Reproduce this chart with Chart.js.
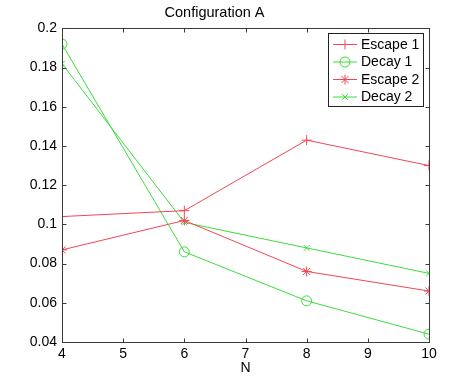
<!DOCTYPE html>
<html><head><meta charset="utf-8">
<script src="https://cdn.jsdelivr.net/npm/chart.js@4"></script>
<style>html,body{margin:0;padding:0;background:#fff}canvas{display:block}</style>
</head><body><canvas id="c" width="474" height="384"></canvas>
<script>
const N = [4, 6, 8, 10];
const escape1 = [0.104, 0.107, 0.143, 0.130];
const decay1 = [0.192, 0.086, 0.061, 0.044];
const escape2 = [0.087, 0.102, 0.076, 0.066];
const decay2 = [0.182, 0.101, 0.088, 0.075];
const seriesLabels = ['Escape 1', 'Decay 1', 'Escape 2', 'Decay 2'];
const xTicks = [4, 5, 6, 7, 8, 9, 10];
const yTicks = [0.04, 0.06, 0.08, 0.1, 0.12, 0.14, 0.16, 0.18, 0.2];
const yTickLabels = ['0.04', '0.06', '0.08', '0.1', '0.12', '0.14', '0.16', '0.18', '0.2'];
const titleText = 'Configuration A';
const xTitle = 'N';

const RED = 'rgb(242,70,85)';
const GREEN = 'rgb(60,220,60)';
const FONT = 'Liberation Sans, Arial, Helvetica, sans-serif';

function mk(label, vals, color, style, r) {
  return {
    label, data: N.map((x, i) => ({x, y: vals[i]})),
    borderColor: color, backgroundColor: 'rgba(0,0,0,0)',
    borderWidth: 1, pointStyle: style, pointRadius: r, pointHoverRadius: r,
    pointBorderColor: color, pointBackgroundColor: 'rgba(0,0,0,0)', pointBorderWidth: 1,
    tension: 0, fill: false
  };
}
const styles = ['cross', 'circle', 'star', 'crossRot'];
const radii = [5, 5, 5, 4];
const colors = [RED, GREEN, RED, GREEN];
const seriesVals = [escape1, decay1, escape2, decay2];

function drawMarker(ctx, style, x, y, r) {
  ctx.beginPath();
  if (style === 'circle') { ctx.arc(x, y, r, 0, Math.PI * 2); }
  else {
    const lines = [];
    if (style === 'cross' || style === 'star') { lines.push([0, -r, 0, r], [-r, 0, r, 0]); }
    if (style === 'crossRot' || style === 'star') { const d = r * 0.7071; lines.push([-d, -d, d, d], [-d, d, d, -d]); }
    lines.forEach(l => { ctx.moveTo(x + l[0], y + l[1]); ctx.lineTo(x + l[2], y + l[3]); });
  }
  ctx.stroke();
}

const frame = {
  id: 'frame',
  afterDatasetsDraw(chart) {
    const {ctx, chartArea: a, scales} = chart;
    ctx.save();
    ctx.strokeStyle = '#3a3a3a'; ctx.lineWidth = 1;
    const L = Math.round(a.left) + 0.5, R = Math.round(a.right) + 0.5, T = Math.round(a.top) + 0.5, B = Math.round(a.bottom) + 0.5;
    ctx.beginPath();
    scales.x.ticks.forEach(t => {
      const p = Math.round(scales.x.getPixelForValue(t.value)) + 0.5;
      ctx.moveTo(p, B); ctx.lineTo(p, B - 4); ctx.moveTo(p, T); ctx.lineTo(p, T + 4);
    });
    scales.y.ticks.forEach(t => {
      const p = Math.round(scales.y.getPixelForValue(t.value)) + 0.5;
      ctx.moveTo(L, p); ctx.lineTo(L + 4, p); ctx.moveTo(R, p); ctx.lineTo(R - 4, p);
    });
    ctx.stroke();
    ctx.strokeRect(L, T, R - L, B - T);
    // legend
    const bx = 328.5, by = 33.5, bw = 95, bh = 73;
    ctx.fillStyle = '#fff'; ctx.fillRect(bx, by, bw, bh);
    ctx.strokeStyle = '#222'; ctx.strokeRect(bx, by, bw, bh);
    ctx.font = '14px ' + FONT; ctx.textBaseline = 'middle'; ctx.textAlign = 'left';
    chart.data.datasets.forEach((ds, i) => {
      const y = 44.5 + i * 17.5;
      ctx.strokeStyle = ds.borderColor; ctx.lineWidth = 1;
      ctx.beginPath(); ctx.moveTo(333, y); ctx.lineTo(357, y); ctx.stroke();
      drawMarker(ctx, ds.pointStyle, 345, y, ds.pointRadius);
      ctx.fillStyle = '#000'; ctx.fillText(ds.label, 361, y + 0.5);
    });
    ctx.restore();
  }
};

new Chart(document.getElementById('c'), {
  type: 'line',
  data: { datasets: seriesLabels.map((l, i) => mk(l, seriesVals[i], colors[i], styles[i], radii[i])) },
  options: {
    responsive: false, animation: false,
    layout: { padding: { left: 0, right: 45, top: 0, bottom: 0 } },
    plugins: {
      legend: { display: false }, tooltip: { enabled: false },
      title: { display: true, text: titleText, color: '#000', font: { family: FONT, size: 14.5, weight: 'normal' }, padding: { top: 4, bottom: 7 } }
    },
    scales: {
      x: {
        type: 'linear', min: 4, max: 10,
        afterBuildTicks: s => { s.ticks = xTicks.map(v => ({value: v})); },
        afterFit: s => { s.height = 42; },
        ticks: { color: '#000', font: { family: FONT, size: 14 }, padding: 4, maxRotation: 0, callback: v => String(v) },
        grid: { display: false, drawTicks: false }, border: { display: false },
        title: { display: true, text: xTitle, color: '#000', font: { family: FONT, size: 14 }, padding: { top: 0, bottom: 7 } }
      },
      y: {
        type: 'linear', min: 0.04, max: 0.2,
        afterBuildTicks: s => { s.ticks = yTicks.map(v => ({value: v})); },
        afterFit: s => { s.width = 62; },
        ticks: { color: '#000', font: { family: FONT, size: 14 }, padding: 5,
          callback: v => { const i = yTicks.findIndex(t => Math.abs(t - v) < 1e-9); return i >= 0 ? yTickLabels[i] : ''; } },
        grid: { display: false, drawTicks: false }, border: { display: false }
      }
    }
  },
  plugins: [frame]
});
</script></body></html>
